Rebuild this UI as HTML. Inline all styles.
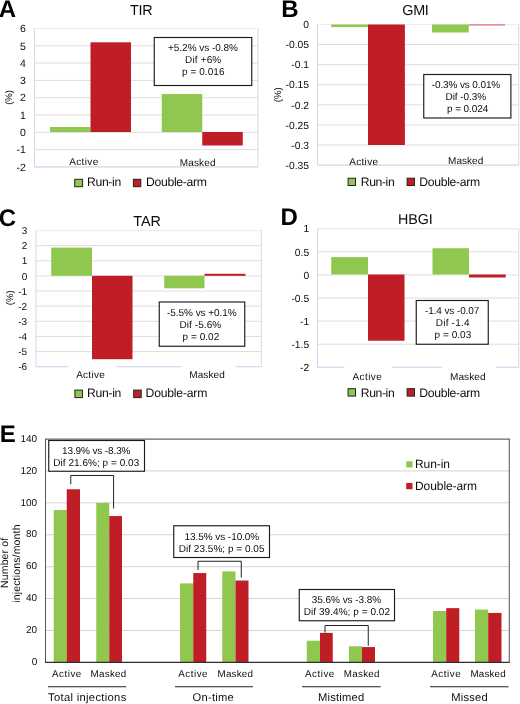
<!DOCTYPE html>
<html><head><meta charset="utf-8"><title>Figure</title>
<style>
html,body{margin:0;padding:0;background:#fff;}
svg{display:block;font-family:"Liberation Sans", Arial, sans-serif;text-rendering:geometricPrecision;}
</style></head><body>
<svg width="520" height="704" viewBox="0 0 520 704">
<rect x="0" y="0" width="520" height="704" fill="#ffffff"/>
<line x1="34.50" y1="28.50" x2="258.00" y2="28.50" stroke="#dedede" stroke-width="1"/>
<text x="25.90" y="32.28" font-size="10.5" text-anchor="end" fill="#0d0d0d">6</text>
<line x1="34.50" y1="45.80" x2="258.00" y2="45.80" stroke="#dedede" stroke-width="1"/>
<text x="25.90" y="49.58" font-size="10.5" text-anchor="end" fill="#0d0d0d">5</text>
<line x1="34.50" y1="63.10" x2="258.00" y2="63.10" stroke="#dedede" stroke-width="1"/>
<text x="25.90" y="66.88" font-size="10.5" text-anchor="end" fill="#0d0d0d">4</text>
<line x1="34.50" y1="80.40" x2="258.00" y2="80.40" stroke="#dedede" stroke-width="1"/>
<text x="25.90" y="84.18" font-size="10.5" text-anchor="end" fill="#0d0d0d">3</text>
<line x1="34.50" y1="97.70" x2="258.00" y2="97.70" stroke="#dedede" stroke-width="1"/>
<text x="25.90" y="101.48" font-size="10.5" text-anchor="end" fill="#0d0d0d">2</text>
<line x1="34.50" y1="115.00" x2="258.00" y2="115.00" stroke="#dedede" stroke-width="1"/>
<text x="25.90" y="118.78" font-size="10.5" text-anchor="end" fill="#0d0d0d">1</text>
<line x1="34.50" y1="132.30" x2="258.00" y2="132.30" stroke="#dedede" stroke-width="1"/>
<text x="25.90" y="136.08" font-size="10.5" text-anchor="end" fill="#0d0d0d">0</text>
<line x1="34.50" y1="149.60" x2="258.00" y2="149.60" stroke="#dedede" stroke-width="1"/>
<text x="25.90" y="153.38" font-size="10.5" text-anchor="end" fill="#0d0d0d">-1</text>
<line x1="34.50" y1="166.90" x2="258.00" y2="166.90" stroke="#dedede" stroke-width="1"/>
<text x="25.90" y="170.68" font-size="10.5" text-anchor="end" fill="#0d0d0d">-2</text>
<line x1="34.50" y1="28.50" x2="258.00" y2="28.50" stroke="#ebeef8" stroke-width="1"/>
<polyline points="34.50,28.50 34.50,166.90 258.00,166.90 258.00,28.50" fill="none" stroke="#d0d9f1" stroke-width="1"/>
<rect x="50.00" y="127.00" width="40.50" height="5.00" fill="#90c74f"/>
<rect x="90.50" y="42.30" width="40.50" height="89.70" fill="#c01e27"/>
<rect x="161.75" y="94.00" width="40.50" height="38.00" fill="#90c74f"/>
<rect x="202.25" y="132.00" width="40.50" height="13.50" fill="#c01e27"/>
<text x="-1.20" y="17.20" font-size="24" font-weight="bold" fill="#000">A</text>
<text x="130.00" y="15.00" font-size="14.4" textLength="22.60" lengthAdjust="spacing" fill="#0d0d0d">TIR</text>
<text x="0.00" y="0.00" font-size="9.6" text-anchor="middle" fill="#0d0d0d" transform="translate(12,97.4) rotate(-90)">(%)</text>
<text x="69.20" y="165.00" font-size="10" textLength="29.00" lengthAdjust="spacing" fill="#0d0d0d">Active</text>
<text x="179.70" y="166.00" font-size="10" textLength="35.80" lengthAdjust="spacing" fill="#0d0d0d">Masked</text>
<rect x="74.70" y="179.30" width="7.90" height="7.40" fill="#90c74f" stroke="#222" stroke-width="1"/>
<text x="87.10" y="186.30" font-size="12.2" textLength="34.10" lengthAdjust="spacing" fill="#0d0d0d">Run-in</text>
<rect x="133.40" y="179.30" width="7.40" height="7.40" fill="#c01e27" stroke="#222" stroke-width="1"/>
<text x="146.00" y="186.30" font-size="12.2" textLength="61.00" lengthAdjust="spacing" fill="#0d0d0d">Double-arm</text>
<rect x="154.25" y="37.50" width="97.50" height="48.00" fill="#fff" stroke="#1c1c1c" stroke-width="1.15"/>
<text x="168.00" y="50.75" font-size="10" textLength="70.00" lengthAdjust="spacing" fill="#0d0d0d">+5.2% vs -0.8%</text>
<text x="185.00" y="62.75" font-size="10" textLength="36.25" lengthAdjust="spacing" fill="#0d0d0d">Dif +6%</text>
<text x="182.00" y="75.00" font-size="10" textLength="42.50" lengthAdjust="spacing" fill="#0d0d0d">p = 0.016</text>
<line x1="317.50" y1="24.50" x2="518.75" y2="24.50" stroke="#dedede" stroke-width="1"/>
<text x="309.00" y="28.21" font-size="10.3" text-anchor="end" fill="#0d0d0d">0</text>
<line x1="317.50" y1="44.59" x2="518.75" y2="44.59" stroke="#dedede" stroke-width="1"/>
<text x="309.00" y="48.29" font-size="10.3" text-anchor="end" fill="#0d0d0d">-0.05</text>
<line x1="317.50" y1="64.67" x2="518.75" y2="64.67" stroke="#dedede" stroke-width="1"/>
<text x="309.00" y="68.38" font-size="10.3" text-anchor="end" fill="#0d0d0d">-0.1</text>
<line x1="317.50" y1="84.76" x2="518.75" y2="84.76" stroke="#dedede" stroke-width="1"/>
<text x="309.00" y="88.47" font-size="10.3" text-anchor="end" fill="#0d0d0d">-0.15</text>
<line x1="317.50" y1="104.84" x2="518.75" y2="104.84" stroke="#dedede" stroke-width="1"/>
<text x="309.00" y="108.55" font-size="10.3" text-anchor="end" fill="#0d0d0d">-0.2</text>
<line x1="317.50" y1="124.93" x2="518.75" y2="124.93" stroke="#dedede" stroke-width="1"/>
<text x="309.00" y="128.64" font-size="10.3" text-anchor="end" fill="#0d0d0d">-0.25</text>
<line x1="317.50" y1="145.01" x2="518.75" y2="145.01" stroke="#dedede" stroke-width="1"/>
<text x="309.00" y="148.72" font-size="10.3" text-anchor="end" fill="#0d0d0d">-0.3</text>
<line x1="317.50" y1="165.10" x2="518.75" y2="165.10" stroke="#dedede" stroke-width="1"/>
<text x="309.00" y="168.81" font-size="10.3" text-anchor="end" fill="#0d0d0d">-0.35</text>
<line x1="317.50" y1="24.50" x2="518.75" y2="24.50" stroke="#ebeef8" stroke-width="1"/>
<polyline points="317.50,24.50 317.50,165.10 518.75,165.10 518.75,24.50" fill="none" stroke="#d0d9f1" stroke-width="1"/>
<rect x="331.25" y="24.50" width="36.75" height="2.60" fill="#90c74f"/>
<rect x="368.00" y="24.50" width="36.90" height="120.50" fill="#c01e27"/>
<rect x="432.00" y="24.50" width="36.75" height="8.00" fill="#90c74f"/>
<rect x="468.75" y="24.30" width="36.25" height="1.20" fill="#e0676f"/>
<text x="281.20" y="17.20" font-size="24" font-weight="bold" fill="#000">B</text>
<text x="402.30" y="15.00" font-size="14.4" textLength="26.50" lengthAdjust="spacing" fill="#0d0d0d">GMI</text>
<text x="0.00" y="0.00" font-size="9.6" text-anchor="middle" fill="#0d0d0d" transform="translate(281,94.7) rotate(-90)">(%)</text>
<text x="349.25" y="165.00" font-size="10" textLength="28.75" lengthAdjust="spacing" fill="#0d0d0d">Active</text>
<text x="448.00" y="164.00" font-size="10" textLength="35.25" lengthAdjust="spacing" fill="#0d0d0d">Masked</text>
<rect x="348.10" y="178.20" width="7.40" height="7.30" fill="#90c74f" stroke="#222" stroke-width="1"/>
<text x="360.70" y="186.00" font-size="12.2" textLength="34.00" lengthAdjust="spacing" fill="#0d0d0d">Run-in</text>
<rect x="407.10" y="178.20" width="7.40" height="7.30" fill="#c01e27" stroke="#222" stroke-width="1"/>
<text x="419.30" y="186.00" font-size="12.2" textLength="60.80" lengthAdjust="spacing" fill="#0d0d0d">Double-arm</text>
<rect x="423.75" y="74.50" width="87.15" height="43.50" fill="#fff" stroke="#1c1c1c" stroke-width="1.15"/>
<text x="431.75" y="87.50" font-size="10" textLength="68.50" lengthAdjust="spacing" fill="#0d0d0d">-0.3% vs 0.01%</text>
<text x="445.50" y="99.50" font-size="10" textLength="40.75" lengthAdjust="spacing" fill="#0d0d0d">Dif -0.3%</text>
<text x="447.00" y="111.75" font-size="10" textLength="41.25" lengthAdjust="spacing" fill="#0d0d0d">p = 0.024</text>
<line x1="36.00" y1="230.50" x2="261.25" y2="230.50" stroke="#dedede" stroke-width="1"/>
<text x="27.20" y="234.10" font-size="10" text-anchor="end" fill="#0d0d0d">3</text>
<line x1="36.00" y1="245.63" x2="261.25" y2="245.63" stroke="#dedede" stroke-width="1"/>
<text x="27.20" y="249.23" font-size="10" text-anchor="end" fill="#0d0d0d">2</text>
<line x1="36.00" y1="260.77" x2="261.25" y2="260.77" stroke="#dedede" stroke-width="1"/>
<text x="27.20" y="264.37" font-size="10" text-anchor="end" fill="#0d0d0d">1</text>
<line x1="36.00" y1="275.90" x2="261.25" y2="275.90" stroke="#dedede" stroke-width="1"/>
<text x="27.20" y="279.50" font-size="10" text-anchor="end" fill="#0d0d0d">0</text>
<line x1="36.00" y1="291.03" x2="261.25" y2="291.03" stroke="#dedede" stroke-width="1"/>
<text x="27.20" y="294.63" font-size="10" text-anchor="end" fill="#0d0d0d">-1</text>
<line x1="36.00" y1="306.17" x2="261.25" y2="306.17" stroke="#dedede" stroke-width="1"/>
<text x="27.20" y="309.77" font-size="10" text-anchor="end" fill="#0d0d0d">-2</text>
<line x1="36.00" y1="321.30" x2="261.25" y2="321.30" stroke="#dedede" stroke-width="1"/>
<text x="27.20" y="324.90" font-size="10" text-anchor="end" fill="#0d0d0d">-3</text>
<line x1="36.00" y1="336.43" x2="261.25" y2="336.43" stroke="#dedede" stroke-width="1"/>
<text x="27.20" y="340.03" font-size="10" text-anchor="end" fill="#0d0d0d">-4</text>
<line x1="36.00" y1="351.57" x2="261.25" y2="351.57" stroke="#dedede" stroke-width="1"/>
<text x="27.20" y="355.17" font-size="10" text-anchor="end" fill="#0d0d0d">-5</text>
<line x1="36.00" y1="366.70" x2="261.25" y2="366.70" stroke="#dedede" stroke-width="1"/>
<text x="27.20" y="370.30" font-size="10" text-anchor="end" fill="#0d0d0d">-6</text>
<line x1="36.00" y1="230.50" x2="261.25" y2="230.50" stroke="#ebeef8" stroke-width="1"/>
<polyline points="36.00,230.50 36.00,366.70 261.25,366.70 261.25,230.50" fill="none" stroke="#d0d9f1" stroke-width="1"/>
<rect x="51.25" y="247.60" width="40.75" height="28.20" fill="#90c74f"/>
<rect x="92.00" y="275.80" width="40.50" height="83.40" fill="#c01e27"/>
<rect x="164.25" y="275.80" width="40.25" height="12.50" fill="#90c74f"/>
<rect x="204.50" y="273.80" width="41.00" height="2.00" fill="#c01e27"/>
<text x="-1.30" y="225.60" font-size="24" font-weight="bold" fill="#000">C</text>
<text x="133.20" y="226.00" font-size="14.4" textLength="27.70" lengthAdjust="spacing" fill="#0d0d0d">TAR</text>
<text x="0.00" y="0.00" font-size="9.6" text-anchor="middle" fill="#0d0d0d" transform="translate(13,297.8) rotate(-90)">(%)</text>
<rect x="68.50" y="362.00" width="47.50" height="20.00" fill="#fff"/>
<rect x="181.25" y="362.00" width="54.25" height="20.00" fill="#fff"/>
<text x="76.20" y="378.00" font-size="10" textLength="28.50" lengthAdjust="spacing" fill="#0d0d0d">Active</text>
<text x="189.20" y="378.00" font-size="10" textLength="35.60" lengthAdjust="spacing" fill="#0d0d0d">Masked</text>
<rect x="74.90" y="390.10" width="7.50" height="7.50" fill="#90c74f" stroke="#222" stroke-width="1"/>
<text x="87.10" y="397.00" font-size="12.2" textLength="34.30" lengthAdjust="spacing" fill="#0d0d0d">Run-in</text>
<rect x="133.70" y="390.10" width="7.50" height="7.50" fill="#c01e27" stroke="#222" stroke-width="1"/>
<text x="145.60" y="397.00" font-size="12.2" textLength="61.70" lengthAdjust="spacing" fill="#0d0d0d">Double-arm</text>
<rect x="159.25" y="302.00" width="85.50" height="44.25" fill="#fff" stroke="#1c1c1c" stroke-width="1.15"/>
<text x="167.00" y="315.75" font-size="10" textLength="69.75" lengthAdjust="spacing" fill="#0d0d0d">-5.5% vs +0.1%</text>
<text x="179.50" y="327.50" font-size="10" textLength="41.75" lengthAdjust="spacing" fill="#0d0d0d">Dif -5.6%</text>
<text x="182.50" y="339.50" font-size="10" textLength="36.75" lengthAdjust="spacing" fill="#0d0d0d">p = 0.02</text>
<line x1="317.50" y1="228.75" x2="518.75" y2="228.75" stroke="#dedede" stroke-width="1"/>
<text x="309.20" y="232.46" font-size="10.3" text-anchor="end" fill="#0d0d0d">1</text>
<line x1="317.50" y1="251.84" x2="518.75" y2="251.84" stroke="#dedede" stroke-width="1"/>
<text x="309.20" y="255.55" font-size="10.3" text-anchor="end" fill="#0d0d0d">0.5</text>
<line x1="317.50" y1="274.93" x2="518.75" y2="274.93" stroke="#dedede" stroke-width="1"/>
<text x="309.20" y="278.64" font-size="10.3" text-anchor="end" fill="#0d0d0d">0</text>
<line x1="317.50" y1="298.02" x2="518.75" y2="298.02" stroke="#dedede" stroke-width="1"/>
<text x="309.20" y="301.73" font-size="10.3" text-anchor="end" fill="#0d0d0d">-0.5</text>
<line x1="317.50" y1="321.12" x2="518.75" y2="321.12" stroke="#dedede" stroke-width="1"/>
<text x="309.20" y="324.82" font-size="10.3" text-anchor="end" fill="#0d0d0d">-1</text>
<line x1="317.50" y1="344.21" x2="518.75" y2="344.21" stroke="#dedede" stroke-width="1"/>
<text x="309.20" y="347.92" font-size="10.3" text-anchor="end" fill="#0d0d0d">-1.5</text>
<line x1="317.50" y1="367.30" x2="518.75" y2="367.30" stroke="#dedede" stroke-width="1"/>
<text x="309.20" y="371.01" font-size="10.3" text-anchor="end" fill="#0d0d0d">-2</text>
<line x1="317.50" y1="228.75" x2="518.75" y2="228.75" stroke="#ebeef8" stroke-width="1"/>
<polyline points="317.50,228.75 317.50,367.30 518.75,367.30 518.75,228.75" fill="none" stroke="#d0d9f1" stroke-width="1"/>
<rect x="331.25" y="257.10" width="36.75" height="17.40" fill="#90c74f"/>
<rect x="368.00" y="274.50" width="36.50" height="66.25" fill="#c01e27"/>
<rect x="432.50" y="248.25" width="36.50" height="26.25" fill="#90c74f"/>
<rect x="469.00" y="274.50" width="36.75" height="3.00" fill="#c01e27"/>
<text x="280.60" y="225.20" font-size="24" font-weight="bold" fill="#000">D</text>
<text x="398.00" y="224.00" font-size="14.3" textLength="34.80" lengthAdjust="spacing" fill="#0d0d0d">HBGI</text>
<rect x="344.50" y="363.00" width="48.00" height="20.00" fill="#fff"/>
<rect x="442.00" y="363.00" width="54.25" height="20.00" fill="#fff"/>
<text x="352.50" y="379.50" font-size="10" textLength="29.25" lengthAdjust="spacing" fill="#0d0d0d">Active</text>
<text x="450.00" y="379.50" font-size="10" textLength="35.50" lengthAdjust="spacing" fill="#0d0d0d">Masked</text>
<rect x="348.10" y="388.70" width="7.40" height="7.40" fill="#90c74f" stroke="#222" stroke-width="1"/>
<text x="360.70" y="396.50" font-size="12.2" textLength="34.00" lengthAdjust="spacing" fill="#0d0d0d">Run-in</text>
<rect x="407.10" y="388.70" width="7.40" height="7.40" fill="#c01e27" stroke="#222" stroke-width="1"/>
<text x="419.30" y="396.50" font-size="12.2" textLength="60.80" lengthAdjust="spacing" fill="#0d0d0d">Double-arm</text>
<rect x="416.25" y="300.50" width="72.00" height="43.75" fill="#fff" stroke="#1c1c1c" stroke-width="1.15"/>
<text x="425.00" y="313.75" font-size="10" textLength="54.25" lengthAdjust="spacing" fill="#0d0d0d">-1.4 vs -0.07</text>
<text x="435.75" y="325.75" font-size="10" textLength="33.75" lengthAdjust="spacing" fill="#0d0d0d">Dif -1.4</text>
<text x="434.50" y="337.50" font-size="10" textLength="36.75" lengthAdjust="spacing" fill="#0d0d0d">p = 0.03</text>
<text x="37.20" y="441.70" font-size="10" text-anchor="end" fill="#0d0d0d">140</text>
<line x1="45.50" y1="470.91" x2="509.25" y2="470.91" stroke="#d4d4d4" stroke-width="1"/>
<text x="37.20" y="473.61" font-size="10" text-anchor="end" fill="#0d0d0d">120</text>
<line x1="45.50" y1="502.83" x2="509.25" y2="502.83" stroke="#d4d4d4" stroke-width="1"/>
<text x="37.20" y="505.53" font-size="10" text-anchor="end" fill="#0d0d0d">100</text>
<line x1="45.50" y1="534.74" x2="509.25" y2="534.74" stroke="#d4d4d4" stroke-width="1"/>
<text x="37.20" y="537.44" font-size="10" text-anchor="end" fill="#0d0d0d">80</text>
<line x1="45.50" y1="566.66" x2="509.25" y2="566.66" stroke="#d4d4d4" stroke-width="1"/>
<text x="37.20" y="569.36" font-size="10" text-anchor="end" fill="#0d0d0d">60</text>
<line x1="45.50" y1="598.57" x2="509.25" y2="598.57" stroke="#d4d4d4" stroke-width="1"/>
<text x="37.20" y="601.27" font-size="10" text-anchor="end" fill="#0d0d0d">40</text>
<line x1="45.50" y1="630.49" x2="509.25" y2="630.49" stroke="#d4d4d4" stroke-width="1"/>
<text x="37.20" y="633.19" font-size="10" text-anchor="end" fill="#0d0d0d">20</text>
<text x="37.20" y="665.10" font-size="10" text-anchor="end" fill="#0d0d0d">0</text>
<rect x="53.75" y="510.01" width="13.00" height="152.39" fill="#90c74f"/>
<rect x="66.75" y="489.26" width="13.25" height="173.13" fill="#c01e27"/>
<rect x="96.25" y="502.83" width="13.00" height="159.57" fill="#90c74f"/>
<rect x="109.25" y="516.07" width="12.75" height="146.33" fill="#c01e27"/>
<rect x="180.00" y="583.41" width="13.25" height="78.99" fill="#90c74f"/>
<rect x="193.25" y="573.04" width="13.00" height="89.36" fill="#c01e27"/>
<rect x="222.25" y="571.44" width="13.25" height="90.96" fill="#90c74f"/>
<rect x="235.50" y="580.54" width="13.00" height="81.86" fill="#c01e27"/>
<rect x="306.75" y="640.70" width="13.25" height="21.70" fill="#90c74f"/>
<rect x="320.00" y="632.88" width="12.75" height="29.52" fill="#c01e27"/>
<rect x="349.00" y="646.28" width="13.00" height="16.12" fill="#90c74f"/>
<rect x="362.00" y="647.08" width="13.00" height="15.32" fill="#c01e27"/>
<rect x="433.00" y="611.02" width="13.20" height="51.38" fill="#90c74f"/>
<rect x="446.20" y="608.15" width="13.10" height="54.25" fill="#c01e27"/>
<rect x="475.00" y="609.58" width="13.20" height="52.82" fill="#90c74f"/>
<rect x="488.20" y="612.93" width="13.30" height="49.47" fill="#c01e27"/>
<line x1="45.00" y1="439.10" x2="509.75" y2="439.10" stroke="#666" stroke-width="1.1"/>
<line x1="45.50" y1="439.00" x2="45.50" y2="662.40" stroke="#555" stroke-width="1"/>
<line x1="509.25" y1="439.00" x2="509.25" y2="662.40" stroke="#505050" stroke-width="1"/>
<line x1="45.00" y1="662.40" x2="509.75" y2="662.40" stroke="#2e2e2e" stroke-width="1.15"/>
<text x="-0.30" y="441.90" font-size="24" font-weight="bold" fill="#000">E</text>
<text x="0.00" y="0.00" font-size="10.5" textLength="50.00" lengthAdjust="spacing" fill="#0d0d0d" transform="translate(7.9,587.9) rotate(-90)">Number of</text>
<text x="0.00" y="0.00" font-size="10.5" textLength="78.30" lengthAdjust="spacing" fill="#0d0d0d" transform="translate(19.9,602.8) rotate(-90)">injections/month</text>
<rect x="48.75" y="440.50" width="95.75" height="30.75" fill="#fff" stroke="#1c1c1c" stroke-width="1.15"/>
<text x="62.00" y="454.00" font-size="10" textLength="68.50" lengthAdjust="spacing" fill="#0d0d0d">13.9% vs -8.3%</text>
<text x="53.25" y="465.50" font-size="10" textLength="86.00" lengthAdjust="spacing" fill="#0d0d0d">Dif 21.6%; p = 0.03</text>
<polyline points="70.75,484.25 70.75,475.5 113.6,475.5 113.6,508.5" fill="none" stroke="#222" stroke-width="1"/>
<rect x="173.75" y="525.75" width="95.75" height="31.75" fill="#fff" stroke="#1c1c1c" stroke-width="1.15"/>
<text x="184.50" y="540.00" font-size="10" textLength="74.75" lengthAdjust="spacing" fill="#0d0d0d">13.5% vs -10.0%</text>
<text x="178.75" y="551.60" font-size="10" textLength="85.75" lengthAdjust="spacing" fill="#0d0d0d">Dif 23.5%; p = 0.05</text>
<polyline points="198,570 198,561.25 241.25,561.25 241.25,577.5" fill="none" stroke="#222" stroke-width="1"/>
<rect x="299.25" y="589.50" width="95.25" height="31.25" fill="#fff" stroke="#1c1c1c" stroke-width="1.15"/>
<text x="311.75" y="603.00" font-size="10" textLength="69.50" lengthAdjust="spacing" fill="#0d0d0d">35.6% vs -3.8%</text>
<text x="303.75" y="614.50" font-size="10" textLength="86.25" lengthAdjust="spacing" fill="#0d0d0d">Dif 39.4%; p = 0.02</text>
<polyline points="325,632.5 325,625.5 368.25,625.5 368.25,645.75" fill="none" stroke="#222" stroke-width="1"/>
<rect x="406.25" y="461.25" width="6.25" height="6.25" fill="#90c74f"/>
<text x="415.00" y="468.00" font-size="12" textLength="35.00" lengthAdjust="spacing" fill="#0d0d0d">Run-in</text>
<rect x="406.25" y="483.00" width="6.25" height="6.25" fill="#c01e27"/>
<text x="415.00" y="489.50" font-size="12" textLength="62.00" lengthAdjust="spacing" fill="#0d0d0d">Double-arm</text>
<text x="52.00" y="677.00" font-size="9.8" textLength="29.25" lengthAdjust="spacing" fill="#0d0d0d">Active</text>
<text x="90.50" y="677.00" font-size="9.8" textLength="35.75" lengthAdjust="spacing" fill="#0d0d0d">Masked</text>
<line x1="48.00" y1="686.75" x2="126.25" y2="686.75" stroke="#222" stroke-width="1.1"/>
<text x="48.00" y="700.50" font-size="11.2" textLength="78.25" lengthAdjust="spacing" fill="#0d0d0d">Total injections</text>
<text x="178.25" y="677.00" font-size="9.8" textLength="29.25" lengthAdjust="spacing" fill="#0d0d0d">Active</text>
<text x="217.50" y="677.00" font-size="9.8" textLength="35.50" lengthAdjust="spacing" fill="#0d0d0d">Masked</text>
<line x1="175.00" y1="686.75" x2="253.00" y2="686.75" stroke="#222" stroke-width="1.1"/>
<text x="192.50" y="700.50" font-size="11.2" textLength="41.25" lengthAdjust="spacing" fill="#0d0d0d">On-time</text>
<text x="305.00" y="677.00" font-size="9.8" textLength="29.25" lengthAdjust="spacing" fill="#0d0d0d">Active</text>
<text x="343.75" y="677.00" font-size="9.8" textLength="35.75" lengthAdjust="spacing" fill="#0d0d0d">Masked</text>
<line x1="302.00" y1="686.75" x2="380.75" y2="686.75" stroke="#222" stroke-width="1.1"/>
<text x="318.00" y="700.50" font-size="11.2" textLength="46.25" lengthAdjust="spacing" fill="#0d0d0d">Mistimed</text>
<text x="431.20" y="677.00" font-size="9.8" textLength="29.50" lengthAdjust="spacing" fill="#0d0d0d">Active</text>
<text x="470.40" y="677.00" font-size="9.8" textLength="35.30" lengthAdjust="spacing" fill="#0d0d0d">Masked</text>
<line x1="430.00" y1="686.75" x2="508.50" y2="686.75" stroke="#222" stroke-width="1.1"/>
<text x="451.20" y="700.50" font-size="11.2" textLength="36.50" lengthAdjust="spacing" fill="#0d0d0d">Missed</text>
</svg>
</body></html>
